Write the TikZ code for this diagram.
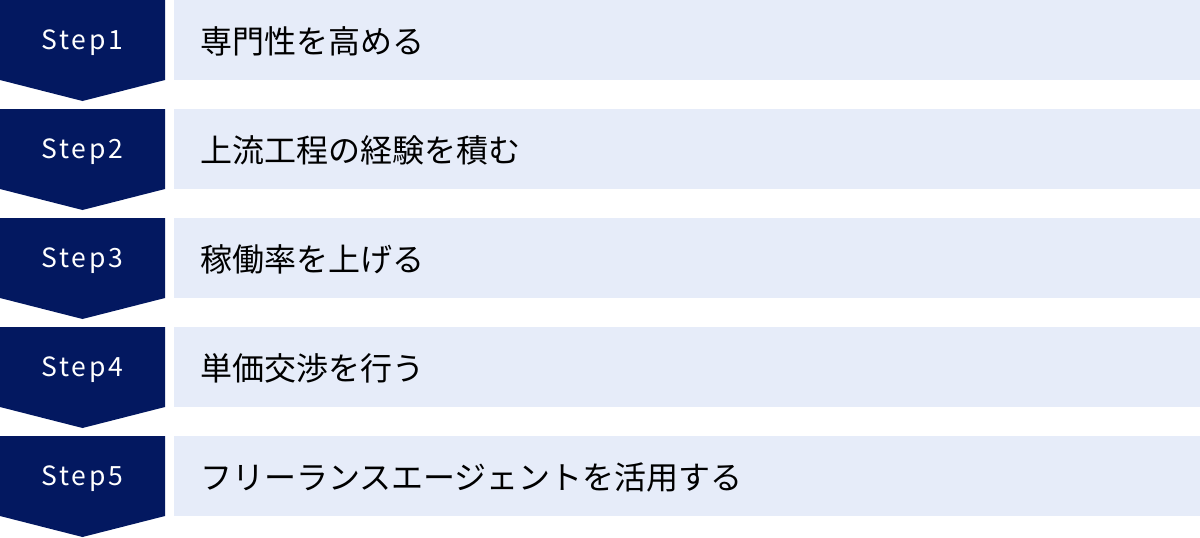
\documentclass[tikz,border=0pt]{standalone}
\usepackage{fontspec}
\setmainfont{Noto Sans CJK JP}
\newfontfamily\stepfont{Noto Sans CJK JP}[LetterSpace=10]
\definecolor{stepnavy}{RGB}{3,24,96}
\definecolor{rowfill}{RGB}{230,236,249}
\begin{document}
\begin{tikzpicture}[x=1pt,y=-1pt]
    \tikzstyle{stepbox} = [fill=stepnavy]
    \tikzstyle{rowbox} = [fill=rowfill]
    \tikzstyle{steplabel} = [text=white, anchor=base, font=\fontsize{26.5}{30}\selectfont\stepfont, inner sep=0pt]
    \tikzstyle{rowlabel} = [text=black, anchor=base west, font=\fontsize{32}{38}\selectfont, inner sep=0pt]
    \useasboundingbox (0,0) rectangle (1200,538);

    \foreach \i/\txt in {1/専門性を高める, 2/上流工程の経験を積む, 3/稼働率を上げる, 4/単価交渉を行う, 5/フリーランスエージェントを活用する} {
      \pgfmathsetmacro{\top}{(\i-1)*109}
      \fill [stepbox] (0,\top) -- (165,\top) -- (165,\top+80) -- (82.5,\top+101) -- (0,\top+80) -- cycle;
      \fill [rowbox] (174,\top) rectangle (1200,\top+80);
      \node [steplabel] (step\i) at (82.5,\top+49.5) {Step\i};
      \node [rowlabel] (task\i) at (200,\top+53) {\txt};
    }

  \end{tikzpicture}
\end{document}
